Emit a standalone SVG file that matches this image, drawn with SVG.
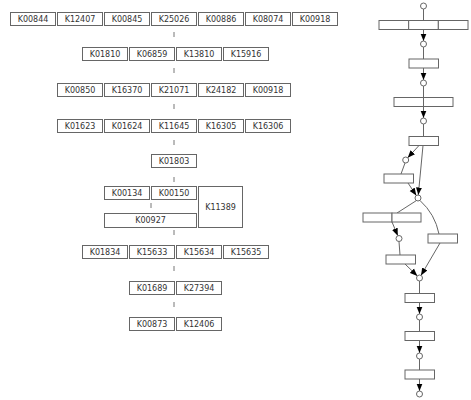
<svg xmlns="http://www.w3.org/2000/svg" width="471" height="400" viewBox="0 0 471 400">
<style>
.k rect{fill:#fff;stroke:#666;stroke-width:1}
.k text{font-family:"DejaVu Sans",sans-serif;font-size:8px;fill:#333;text-anchor:middle}
.tick{stroke:#777;stroke-width:1}
.e{stroke:#666;stroke-width:1;fill:none}
.ea{stroke:#666;stroke-width:1;fill:none;marker-end:url(#ah)}
.r{fill:#fff;stroke:#666;stroke-width:1}
.c{fill:#fff;stroke:#666;stroke-width:1}
</style>
<defs>
<marker id="ah" markerUnits="userSpaceOnUse" markerWidth="8" markerHeight="7" refX="7.5" refY="3.5" orient="auto">
<path d="M0,0.5 L7.5,3.5 L0,6.5 z" fill="#000"/>
</marker>
</defs>
<rect width="471" height="400" fill="#fff"/>
<g id="left-ticks">
<line class="tick" x1="174" y1="32" x2="174" y2="37"/>
<line class="tick" x1="174" y1="68" x2="174" y2="73"/>
<line class="tick" x1="174" y1="104" x2="174" y2="109"/>
<line class="tick" x1="174" y1="140" x2="174" y2="145"/>
<line class="tick" x1="174" y1="177" x2="174" y2="182"/>
<line class="tick" x1="151" y1="203" x2="151" y2="208"/>
<line class="tick" x1="174" y1="230" x2="174" y2="235"/>
<line class="tick" x1="174" y1="266" x2="174" y2="271"/>
<line class="tick" x1="174" y1="302" x2="174" y2="307"/>
</g>
<g id="row1" class="k">
<rect x="10.5" y="12.5" width="45" height="13"/><text x="33" y="21.5">K00844</text>
<rect x="57.5" y="12.5" width="45" height="13"/><text x="80" y="21.5">K12407</text>
<rect x="104.5" y="12.5" width="45" height="13"/><text x="127" y="21.5">K00845</text>
<rect x="151.5" y="12.5" width="45" height="13"/><text x="174" y="21.5">K25026</text>
<rect x="198.5" y="12.5" width="45" height="13"/><text x="221" y="21.5">K00886</text>
<rect x="245.5" y="12.5" width="45" height="13"/><text x="268" y="21.5">K08074</text>
<rect x="292.5" y="12.5" width="45" height="13"/><text x="315" y="21.5">K00918</text>
</g>
<g id="row2" class="k">
<rect x="82.5" y="47.5" width="45" height="13"/><text x="105" y="56.5">K01810</text>
<rect x="129.5" y="47.5" width="45" height="13"/><text x="152" y="56.5">K06859</text>
<rect x="176.5" y="47.5" width="45" height="13"/><text x="199" y="56.5">K13810</text>
<rect x="223.5" y="47.5" width="45" height="13"/><text x="246" y="56.5">K15916</text>
</g>
<g id="row3" class="k">
<rect x="57.5" y="83.5" width="45" height="13"/><text x="80" y="92.5">K00850</text>
<rect x="104.5" y="83.5" width="45" height="13"/><text x="127" y="92.5">K16370</text>
<rect x="151.5" y="83.5" width="45" height="13"/><text x="174" y="92.5">K21071</text>
<rect x="198.5" y="83.5" width="45" height="13"/><text x="221" y="92.5">K24182</text>
<rect x="245.5" y="83.5" width="45" height="13"/><text x="268" y="92.5">K00918</text>
</g>
<g id="row4" class="k">
<rect x="57.5" y="119.5" width="45" height="13"/><text x="80" y="128.5">K01623</text>
<rect x="104.5" y="119.5" width="45" height="13"/><text x="127" y="128.5">K01624</text>
<rect x="151.5" y="119.5" width="45" height="13"/><text x="174" y="128.5">K11645</text>
<rect x="198.5" y="119.5" width="45" height="13"/><text x="221" y="128.5">K16305</text>
<rect x="245.5" y="119.5" width="45" height="13"/><text x="268" y="128.5">K16306</text>
</g>
<g id="row5" class="k">
<rect x="151.5" y="154.5" width="45" height="13"/><text x="174" y="163.5">K01803</text>
</g>
<g id="row6" class="k">
<rect x="104.5" y="186.5" width="45" height="13"/><text x="127" y="195.5">K00134</text>
<rect x="151.5" y="186.5" width="45" height="13"/><text x="174" y="195.5">K00150</text>
<rect x="198.5" y="186.5" width="44" height="41"/><text x="220.5" y="209.5">K11389</text>
<rect x="104.5" y="213.5" width="92" height="14"/><text x="150.5" y="223">K00927</text>
</g>
<g id="row7" class="k">
<rect x="82.5" y="245.5" width="45" height="13"/><text x="105" y="254.5">K01834</text>
<rect x="129.5" y="245.5" width="45" height="13"/><text x="152" y="254.5">K15633</text>
<rect x="176.5" y="245.5" width="45" height="13"/><text x="199" y="254.5">K15634</text>
<rect x="223.5" y="245.5" width="45" height="13"/><text x="246" y="254.5">K15635</text>
</g>
<g id="row8" class="k">
<rect x="129.5" y="281.5" width="45" height="13"/><text x="152" y="290.5">K01689</text>
<rect x="176.5" y="281.5" width="45" height="13"/><text x="199" y="290.5">K27394</text>
</g>
<g id="row9" class="k">
<rect x="129.5" y="317.5" width="45" height="13"/><text x="152" y="326.5">K00873</text>
<rect x="176.5" y="317.5" width="45" height="13"/><text x="199" y="326.5">K12406</text>
</g>
<g id="connectors">
<line class="ea" x1="423.5" y1="9" x2="423.5" y2="41"/>
<line class="ea" x1="423.5" y1="47" x2="423.5" y2="80"/>
<line class="ea" x1="423.5" y1="86" x2="423.5" y2="118"/>
<line class="e" x1="423.5" y1="124" x2="423.5" y2="136.5"/>
<line class="ea" x1="419" y1="145.5" x2="407.7" y2="157.8"/>
<line class="e" x1="405" y1="163" x2="401" y2="174"/>
<line class="ea" x1="408" y1="183" x2="416.3" y2="195.5"/>
<line class="ea" x1="423" y1="145.5" x2="418.3" y2="195"/>
<line class="e" x1="416.5" y1="200.5" x2="397" y2="213"/>
<path class="e" d="M420,200.5 Q435,214 439,234"/>
<line class="ea" x1="392" y1="222" x2="397.8" y2="235.7"/>
<line class="e" x1="399" y1="241.5" x2="400" y2="255"/>
<line class="ea" x1="405" y1="264" x2="417.3" y2="275.9"/>
<line class="ea" x1="440" y1="243" x2="421" y2="275.4"/>
<line class="ea" x1="419.5" y1="281" x2="419.5" y2="314"/>
<line class="ea" x1="419.5" y1="320" x2="419.5" y2="353"/>
<line class="ea" x1="419.5" y1="359" x2="419.5" y2="391"/>
</g>
<g id="reactions">
<g id="r1"><rect class="r" x="379" y="20.5" width="29.67" height="9"/><rect class="r" x="408.67" y="20.5" width="29.67" height="9"/><rect class="r" x="438.33" y="20.5" width="29.67" height="9"/></g>
<g id="r2"><rect class="r" x="409" y="59" width="29.5" height="9"/></g>
<g id="r3"><rect class="r" x="394" y="97.5" width="29.5" height="9"/><rect class="r" x="423.5" y="97.5" width="29.5" height="9"/></g>
<g id="r4"><rect class="r" x="409" y="136.5" width="29.5" height="9"/></g>
<g id="r5"><rect class="r" x="384" y="174" width="29.5" height="9"/></g>
<g id="r6"><rect class="r" x="363" y="213" width="29" height="9"/><rect class="r" x="392" y="213" width="29" height="9"/></g>
<g id="r7"><rect class="r" x="428" y="234" width="29.5" height="9"/></g>
<g id="r8"><rect class="r" x="386" y="255" width="29.5" height="9"/></g>
<g id="r9"><rect class="r" x="405" y="293.5" width="29.5" height="9"/></g>
<g id="r10"><rect class="r" x="405" y="331.5" width="29.5" height="9"/></g>
<g id="r11"><rect class="r" x="405" y="370" width="29.5" height="9"/></g>
</g>
<g id="compounds">
<circle id="c1" class="c" cx="423.5" cy="6" r="3"/>
<circle id="c2" class="c" cx="423.5" cy="44" r="3"/>
<circle id="c3" class="c" cx="423.5" cy="83" r="3"/>
<circle id="c4" class="c" cx="423.5" cy="121" r="3"/>
<circle id="cA" class="c" cx="405.7" cy="160" r="3"/>
<circle id="cB" class="c" cx="418" cy="198" r="3"/>
<circle id="cC" class="c" cx="399" cy="238.5" r="3"/>
<circle id="cD" class="c" cx="419.5" cy="278" r="3"/>
<circle id="cE" class="c" cx="419.5" cy="317" r="3"/>
<circle id="cF" class="c" cx="419.5" cy="356" r="3"/>
<circle id="cG" class="c" cx="419.5" cy="394" r="3"/>
</g>
</svg>
